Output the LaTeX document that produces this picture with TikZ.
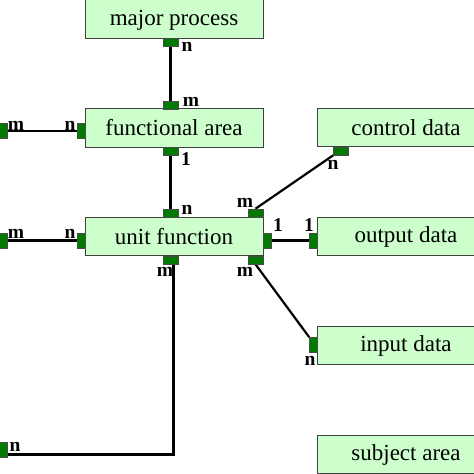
\documentclass[tikz,border=0pt]{standalone}
\usepackage{fontspec}
\setmainfont{Liberation Serif}
\usetikzlibrary{backgrounds}
\definecolor{boxgreen}{RGB}{204,255,204}
\definecolor{portgreen}{RGB}{0,122,0}
\begin{document}
\begin{tikzpicture}[x=1pt,y=-1pt,
  box/.style={draw=black!75,fill=boxgreen,line width=1pt,minimum width=178pt,minimum height=38.5pt,inner sep=0pt,font=\fontsize{23}{26}\selectfont},
  hport/.style={draw=black!70,fill=portgreen,line width=0.6pt,minimum width=15pt,minimum height=8pt,inner sep=0pt},
  vport/.style={draw=black!70,fill=portgreen,line width=0.6pt,minimum width=8pt,minimum height=15pt,inner sep=0pt},
  card/.style={inner sep=0pt,font=\fontsize{19.5}{20}\selectfont\bfseries},
  link/.style={line width=2.2pt,black}]
\useasboundingbox (0,0) rectangle (474,474);
% boxes
\node[box,minimum height=41pt,text height=22pt,text depth=6pt] (mp) at (174,17.5) {major process};
\node[box] (fa) at (174,128) {functional area};
\node[box] (uf) at (174,236.5) {unit function};
\node[box] (cd) at (406,127.5) {control data};
\node[box] (od) at (406,236.5) {output data};
\node[box] (id) at (406,345.5) {input data};
\node[box] (sa) at (406,454.5) {subject area};
% ports
\node[hport] (p1) at (170.5,42) {};
\node[hport] (p2) at (170.5,105) {};
\node[hport] (p3) at (170.5,151) {};
\node[hport] (p4) at (170.5,213) {};
\node[hport] (p5) at (255.5,213) {};
\node[vport] (p6) at (267,240.5) {};
\node[hport] (p7) at (170.5,260) {};
\node[hport] (p8) at (255.5,260) {};
\node[vport] (p9) at (81,240.5) {};
\node[vport] (p10) at (3.5,240.5) {};
\node[vport] (p11) at (81,131) {};
\node[vport] (p12) at (3.5,131) {};
\node[hport] (p13) at (341,151) {};
\node[vport] (p14) at (313.5,240.5) {};
\node[vport] (p15) at (313.5,345) {};
\node[vport] (p16) at (3.5,450) {};
\coordinate (c1) at (173.5,454.5);
% connectors
\begin{scope}[on background layer]
\draw[link] (p1.south) -- (p2.north);
\draw[link] (p3.south) -- (p4.north);
\draw[link] (p12.east) -- (p11.west);
\draw[link] (p10.east) -- (p9.west);
\draw[link] (p6.east) -- (p14.west);
\draw[link] (p5.north) -- (p13.south west);
\draw[link] (p8.south) -- (p15.north west);
\draw[link] (p7.south -| c1) -- (c1) -- (p16.east |- c1);
\end{scope}
% cardinalities
\node[card] (l1) at (187,47) {n};
\node[card] (l2) at (191,102) {m};
\node[card] (l3) at (16,126) {m};
\node[card] (l4) at (70,126) {n};
\node[card] (l5) at (186,159) {1};
\node[card] (l6) at (187,210) {n};
\node[card] (l7) at (245,203) {m};
\node[card] (l8) at (16,234) {m};
\node[card] (l9) at (70,234) {n};
\node[card] (l10) at (165,272) {m};
\node[card] (l11) at (245,272) {m};
\node[card] (l12) at (278,225) {1};
\node[card] (l13) at (309,225) {1};
\node[card] (l14) at (333,165) {n};
\node[card] (l15) at (310,361) {n};
\node[card] (l16) at (15,447) {n};
\end{tikzpicture}
\end{document}
